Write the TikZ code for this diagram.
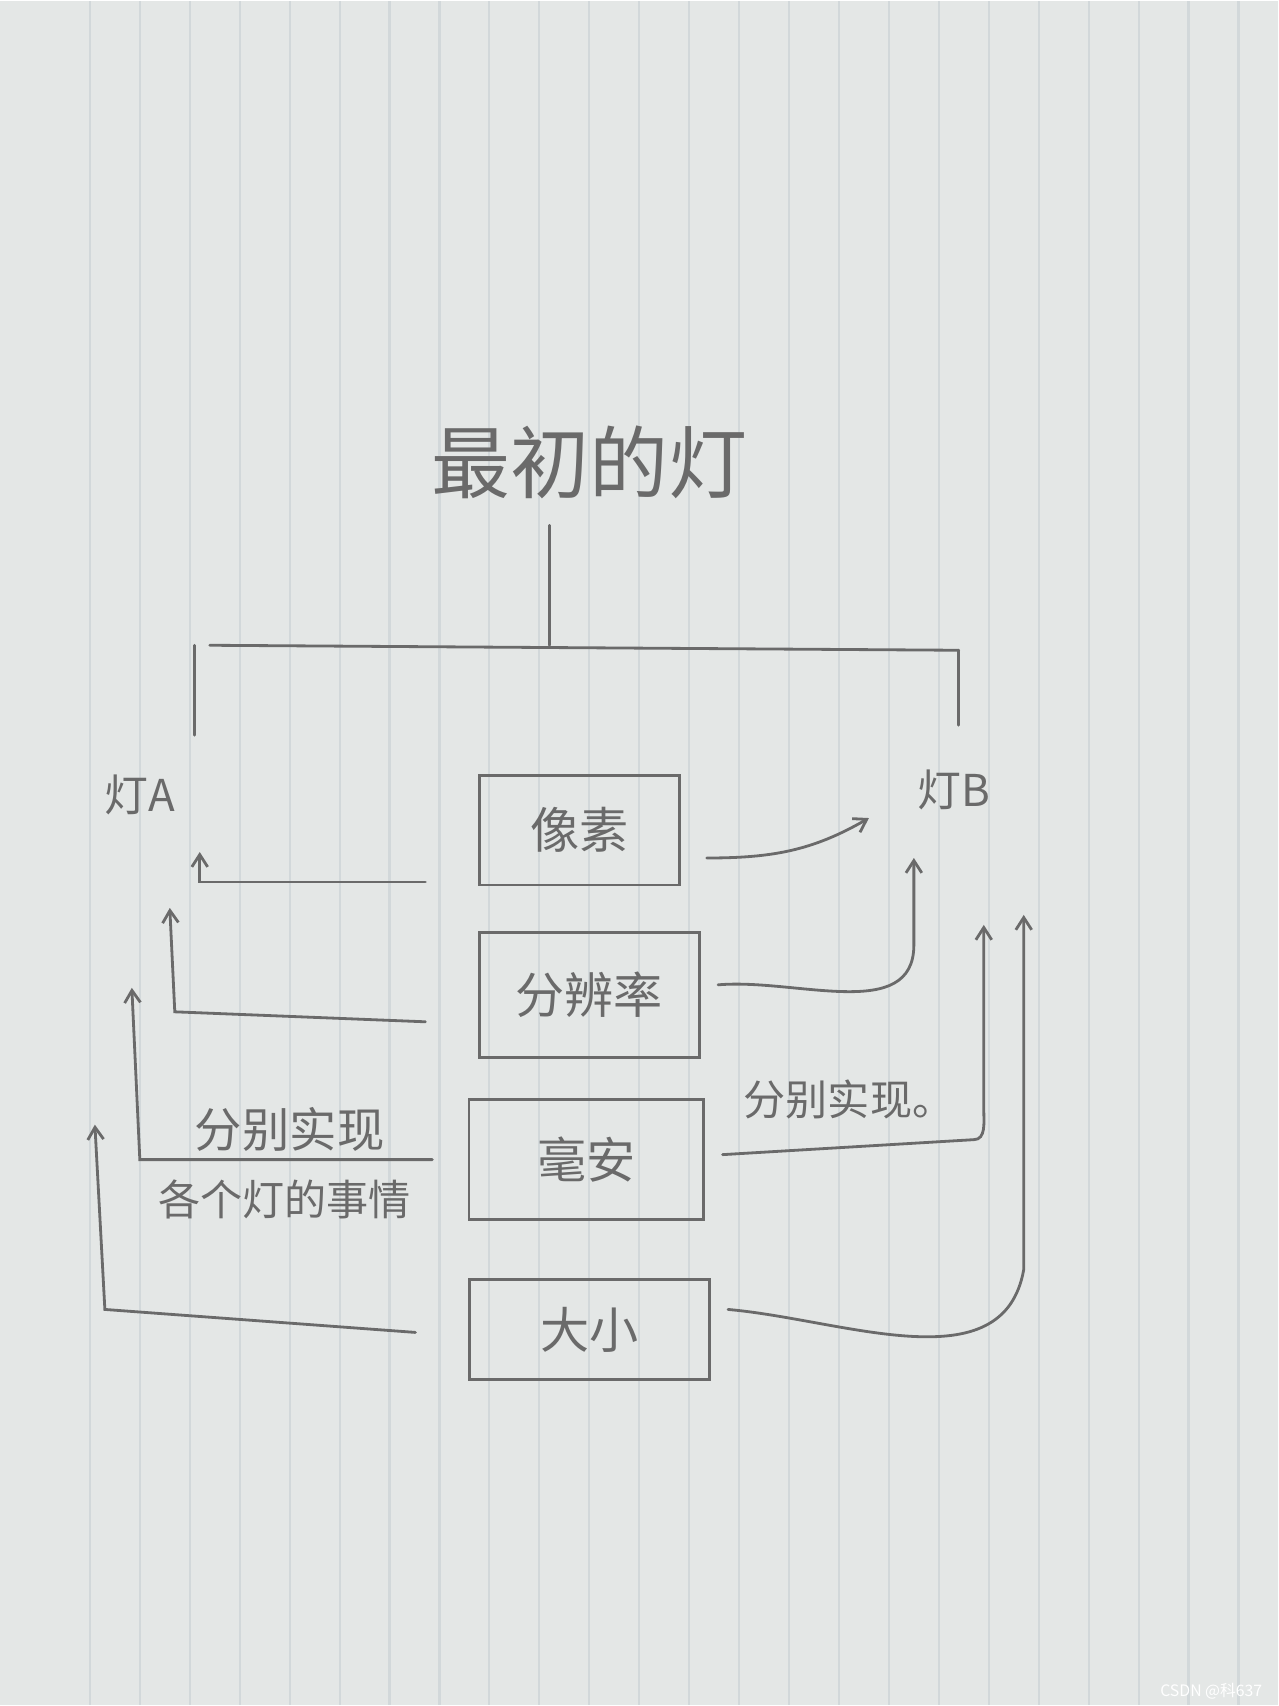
\documentclass[tikz,border=0pt]{standalone}
\usepackage{fontspec}
\newfontfamily\cjk{Noto Sans CJK SC}
\usetikzlibrary{arrows.meta}
\definecolor{paper}{HTML}{E4E7E6}
\definecolor{pencil}{HTML}{6A6A6A}
\definecolor{stripe}{HTML}{D2D8DA}
\begin{document}
\begin{tikzpicture}[x=0.02cm,y=-0.02cm,
  pen/.style={draw=pencil,line width=1.6pt,line cap=round},
  arr/.style={pen,-{Straight Barb[length=7pt,width=9pt]}},
  txt/.style={text=pencil,font=\cjk\fontsize{25}{28}\selectfont,inner sep=0pt},
  boxnode/.style={pen,inner sep=0pt,text=pencil,font=\cjk\fontsize{28}{30}\selectfont}]
\fill[paper] (0,0) rectangle (1280,1706);
\foreach \x in {90,140,...,1260} \draw[stripe,line width=1.2pt] (\x,0) -- (\x,1706);
\useasboundingbox (0,0) rectangle (1280,1706);
\node[txt,font=\cjk\fontsize{45}{48}\selectfont] (title) at (590,462) {最初的灯};
\node[txt] (A) at (140,795) {灯A};
\node[txt] (B) at (955,790) {灯B};
\node[boxnode,minimum width=4cm,minimum height=2.2cm] (b1) at (580,830) {像素};
\node[boxnode,minimum width=4.4cm,minimum height=2.5cm] (b2) at (590,995) {分辨率};
\node[boxnode,minimum width=4.7cm,minimum height=2.4cm] (b3) at (587,1160) {毫安};
\node[boxnode,minimum width=4.8cm,minimum height=2cm] (b4) at (590,1330) {大小};
\coordinate (t0) at (550,525); \coordinate (t1) at (550,645);
\coordinate (hl) at (210,645); \coordinate (hr) at (960,650);
\draw[pen] (t0) -- (t1);
\draw[pen] (hl) -- (hr);
\draw[pen] (195,645) -- (195,735);
\draw[pen] (hr) -- (960,725);
\draw[arr] ([xshift=-30pt]b1.west |- 0,882) -- (200,882) -- (200,852);
\draw[arr] ([xshift=-30pt]b2.west |- 0,1022) -- (175,1012) -- (170,908);
\draw[arr] ([xshift=-20pt]b3.west |- 0,1160) -- (140,1160) -- (132,988);
\draw[arr] ([xshift=-30pt]b4.west |- 0,1333) -- (105,1310) -- (95,1125);
\draw[arr] ([xshift=15pt]b1.east |- 0,858) to[out=0,in=-150] (870,818);
\draw[arr] ([xshift=10pt]b2.east |- 0,985) to[out=5,in=-90] (915,945) -- (915,858);
\draw[arr] ([xshift=10pt]b3.east |- 0,1155) -- (975,1140) to[out=0,in=-90] (985,1110) -- (985,925);
\draw[arr] ([xshift=10pt]b4.east |- 0,1310) to[out=-5,in=-100] (1025,1270) -- (1025,915);
\node[txt,font=\cjk\fontsize{27}{30}\selectfont] (l1) at (290,1130) {分别实现};
\node[txt,font=\cjk\fontsize{24}{28}\selectfont] (l2) at (285,1200) {各个灯的事情};
\node[txt,font=\cjk\fontsize{24}{28}\selectfont] (r1) at (850,1100) {分别实现。};
\node[text=white,font=\cjk\fontsize{9}{10}\selectfont,anchor=east] (wm) at (1270,1692) {CSDN @科637};
\end{tikzpicture}
\end{document}
